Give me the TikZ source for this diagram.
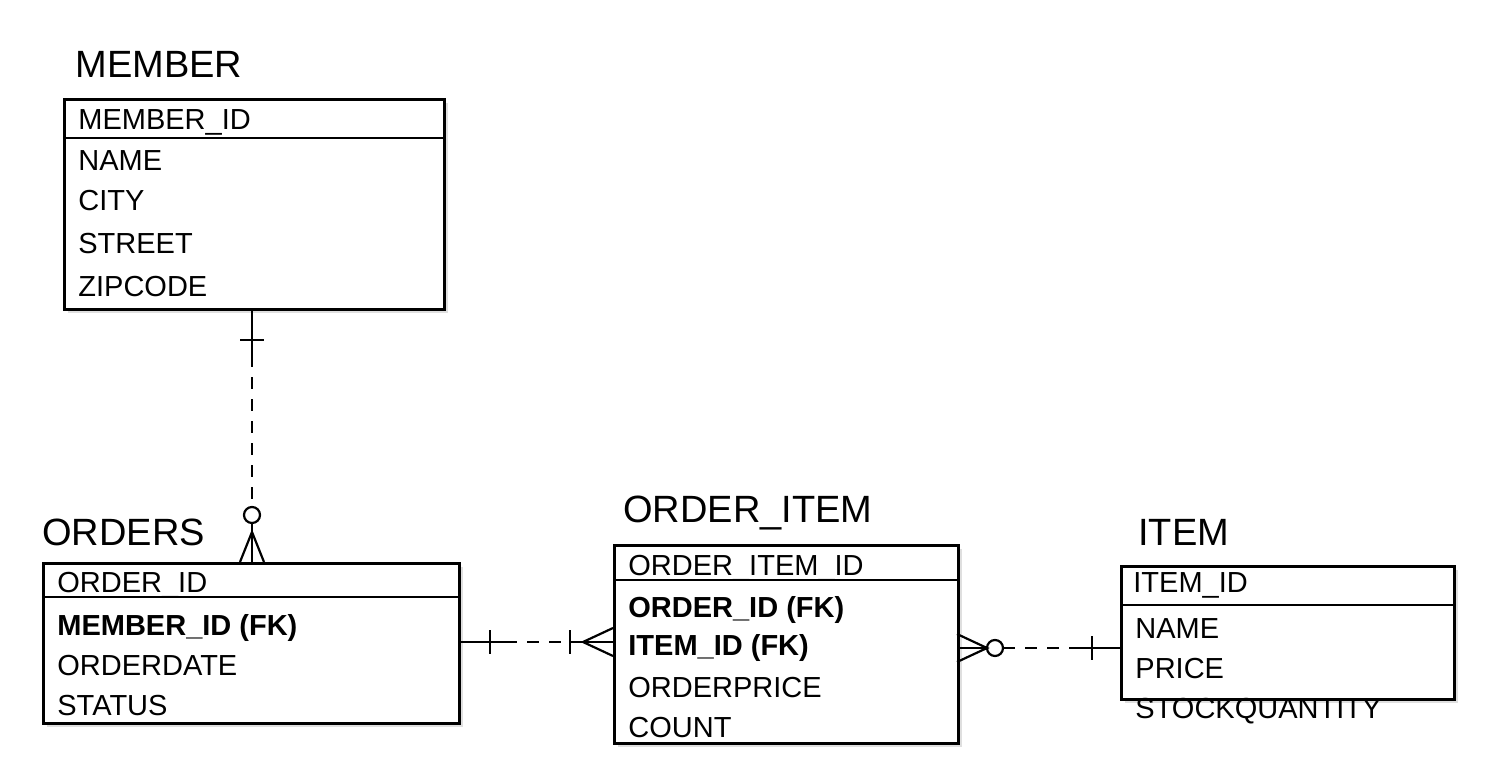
\documentclass[tikz,border=0pt]{standalone}
\usepackage{fontspec}
\setmainfont{Liberation Sans}
\usetikzlibrary{shadows}

\begin{document}
\begin{tikzpicture}[x=0.5pt, y=-0.5pt,
    table/.style={draw, line width=1.3pt, fill=white, anchor=north west, inner sep=0pt,
        drop shadow={shadow xshift=2pt, shadow yshift=-2pt, opacity=0.25}},
    title/.style={anchor=base west, inner sep=0pt, font=\fontsize{19}{19}\selectfont},
    field/.style={anchor=base west, inner sep=0pt, font=\fontsize{14.5}{14.5}\selectfont},
    key/.style={field, font=\fontsize{14.5}{14.5}\selectfont\bfseries},
    rel/.style={line width=1.1pt, dash pattern=on 6pt off 5pt},
    crow/.style={line width=1.1pt}]

    \useasboundingbox (0,0) rectangle (1505,765);

    % Tables
    \node[table, minimum width=190pt, minimum height=105pt] (member) at (63,98) {};
    \node[table, minimum width=208pt, minimum height=80pt] (orders) at (42,562) {};
    \node[table, minimum width=172pt, minimum height=99pt] (orderitem) at (613,544) {};
    \node[table, minimum width=166.5pt, minimum height=66.5pt] (item) at (1120,565) {};

    % Header lines
    \draw[line width=1.3pt] (63,138) -- (443,138);
    \draw[line width=1.3pt] (42,597) -- (458,597);
    \draw[line width=1.3pt] (613,580) -- (957,580);
    \draw[line width=1.3pt] (1120,605) -- (1453,605);

    % Titles
    \node[title] (tmember) at (75,78) {MEMBER};
    \node[title] (torders) at (42,545) {ORDERS};
    \node[title] (torderitem) at (623,522) {ORDER\_ITEM};
    \node[title] (titem) at (1138,545) {ITEM};

    % MEMBER fields
    \node[field] (m1) at (78,130) {MEMBER\_ID};
    \node[field] (m2) at (78,170) {NAME};
    \node[field] (m3) at (78,210) {CITY};
    \node[field] (m4) at (78,253) {STREET};
    \node[field] (m5) at (78,296) {ZIPCODE};

    % ORDERS fields
    \node[field] (o1) at (57,592) {ORDER\_ID};
    \node[key]   (o2) at (57,635) {MEMBER\_ID (FK)};
    \node[field] (o3) at (57,675) {ORDERDATE};
    \node[field] (o4) at (57,715) {STATUS};

    % ORDER_ITEM fields
    \node[field] (oi1) at (628,575) {ORDER\_ITEM\_ID};
    \node[key]   (oi2) at (628,617) {ORDER\_ID (FK)};
    \node[key]   (oi3) at (628,655) {ITEM\_ID (FK)};
    \node[field] (oi4) at (628,697) {ORDERPRICE};
    \node[field] (oi5) at (628,737) {COUNT};

    % ITEM fields
    \node[field] (i1) at (1133,592) {ITEM\_ID};
    \node[field] (i2) at (1135,638) {NAME};
    \node[field] (i3) at (1135,678) {PRICE};
    \node[field] (i4) at (1135,718) {STOCKQUANTITY};

    % MEMBER -- ORDERS
    \coordinate (a1) at (252,308);
    \coordinate (a2) at (252,562);
    \draw[crow] (a1) -- (252,355);
    \draw[rel] (252,355) -- (252,507);
    \draw[crow] (240,340) -- (264,340);
    \draw[crow] (252,515) circle (8);
    \draw[crow] (252,523) -- (a2);
    \draw[crow] (240,562) -- (252,532) -- (264,562);

    % ORDERS -- ORDER_ITEM
    \coordinate (b1) at (458,642);
    \coordinate (b2) at (613,642);
    \draw[crow] (b1) -- (505,642);
    \draw[rel] (505,642) -- (570,642);
    \draw[crow] (570,642) -- (b2);
    \draw[crow] (490,630) -- (490,654);
    \draw[crow] (570,630) -- (570,654);
    \draw[crow] (613,628) -- (583,642) -- (613,656);

    % ORDER_ITEM -- ITEM
    \coordinate (c1) at (957,648);
    \coordinate (c2) at (1120,648);
    \draw[crow] (c1) -- (987,648);
    \draw[crow] (957,634) -- (987,648) -- (957,662);
    \draw[crow] (995,648) circle (8);
    \draw[rel] (1003,648) -- (1080,648);
    \draw[crow] (1080,648) -- (c2);
    \draw[crow] (1092,636) -- (1092,660);

\end{tikzpicture}
\end{document}
